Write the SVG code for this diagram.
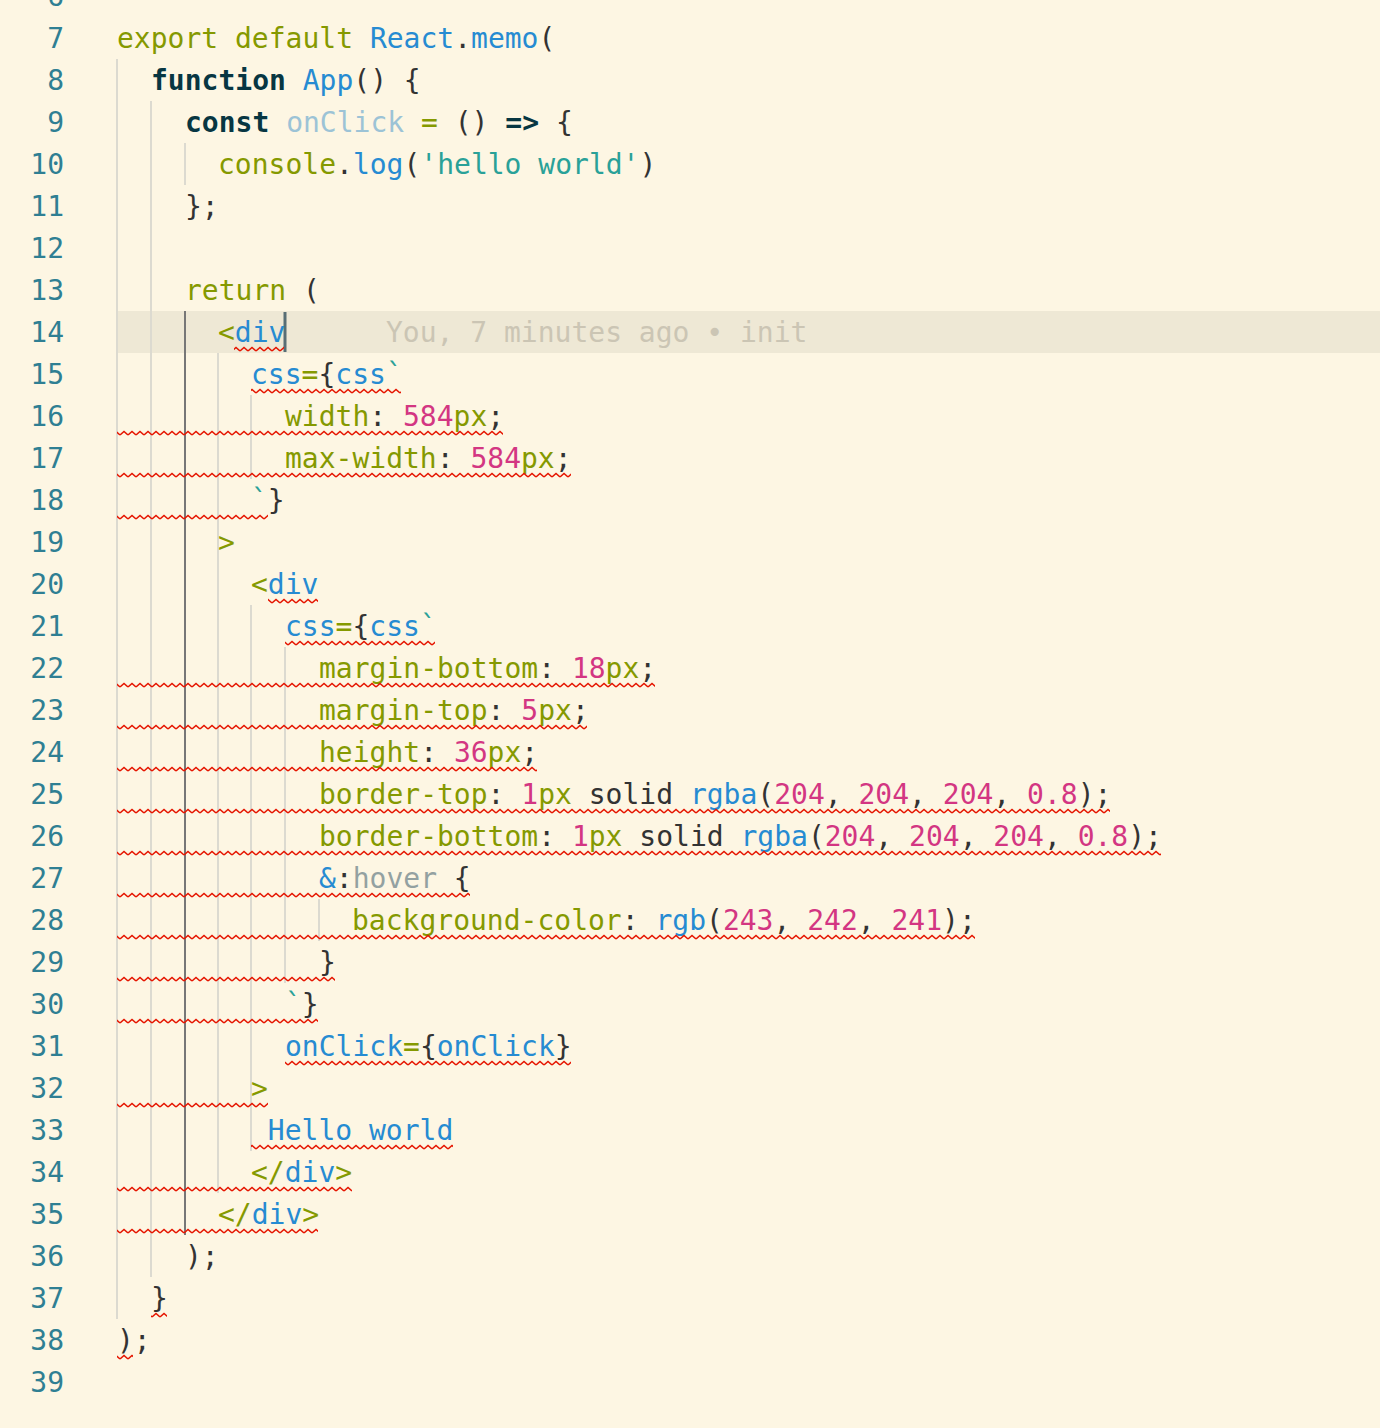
<svg xmlns="http://www.w3.org/2000/svg" width="1380" height="1428" viewBox="0 0 1380 1428">
<defs>
<pattern id="sq" patternUnits="userSpaceOnUse" x="0" y="0" width="8" height="1428">
<path d="M0,5 L4,1.5 L8,5" fill="none" stroke="#e51400" stroke-width="1.6"/>
</pattern>
<style>
text{font-family:"DejaVu Sans Mono","Liberation Mono",monospace;font-size:28px;white-space:pre;fill:#333}
.ln{fill:#2f7f93;text-anchor:end}
.g{fill:#859900}.b{fill:#268bd2}.c{fill:#2aa198}.m{fill:#d33682}.k{fill:#073642;font-weight:bold}.u{fill:#9cc3d6}.h{fill:#93a1a1}
.blame{fill:#cbc5b4}
.gd{stroke:#dcdad0;stroke-width:2}
.ga{stroke:#777;stroke-width:2}
</style>
</defs>
<rect width="1380" height="1428" fill="#fdf6e3"/>
<rect x="117" y="311" width="1263" height="42" fill="#eee8d5"/>
<g id="guides">
<line class="gd" x1="117" y1="59" x2="117" y2="1319"/>
<line class="gd" x1="151" y1="101" x2="151" y2="1277"/>
<line class="gd" x1="185" y1="143" x2="185" y2="185"/>
<line class="ga" x1="185" y1="311" x2="185" y2="1235"/>
<line class="gd" x1="218" y1="353" x2="218" y2="1193"/>
<line class="gd" x1="251" y1="395" x2="251" y2="479"/>
<line class="gd" x1="251" y1="605" x2="251" y2="1151"/>
<line class="gd" x1="285" y1="647" x2="285" y2="983"/>
<line class="gd" x1="319" y1="899" x2="319" y2="941"/>
<line x1="285" y1="312" x2="285" y2="352" stroke="#586e75" stroke-width="3"/>
</g>
<g id="lines">
<text class="ln" x="64" y="6">6</text>
<text class="ln" x="64" y="48">7</text>
<text class="ln" x="64" y="90">8</text>
<text class="ln" x="64" y="132">9</text>
<text class="ln" x="64" y="174">10</text>
<text class="ln" x="64" y="216">11</text>
<text class="ln" x="64" y="258">12</text>
<text class="ln" x="64" y="300">13</text>
<text class="ln" x="64" y="342">14</text>
<text class="ln" x="64" y="384">15</text>
<text class="ln" x="64" y="426">16</text>
<text class="ln" x="64" y="468">17</text>
<text class="ln" x="64" y="510">18</text>
<text class="ln" x="64" y="552">19</text>
<text class="ln" x="64" y="594">20</text>
<text class="ln" x="64" y="636">21</text>
<text class="ln" x="64" y="678">22</text>
<text class="ln" x="64" y="720">23</text>
<text class="ln" x="64" y="762">24</text>
<text class="ln" x="64" y="804">25</text>
<text class="ln" x="64" y="846">26</text>
<text class="ln" x="64" y="888">27</text>
<text class="ln" x="64" y="930">28</text>
<text class="ln" x="64" y="972">29</text>
<text class="ln" x="64" y="1014">30</text>
<text class="ln" x="64" y="1056">31</text>
<text class="ln" x="64" y="1098">32</text>
<text class="ln" x="64" y="1140">33</text>
<text class="ln" x="64" y="1182">34</text>
<text class="ln" x="64" y="1224">35</text>
<text class="ln" x="64" y="1266">36</text>
<text class="ln" x="64" y="1308">37</text>
<text class="ln" x="64" y="1350">38</text>
<text class="ln" x="64" y="1392">39</text>
</g>
<g id="code">
<text x="117" y="48"><tspan class="g">export default </tspan><tspan class="b">React</tspan>.<tspan class="b">memo</tspan>(</text>
<text x="151" y="90"><tspan class="k">function</tspan> <tspan class="b">App</tspan>() {</text>
<text x="185" y="132"><tspan class="k">const</tspan> <tspan class="u">onClick</tspan> <tspan class="g">=</tspan> () <tspan class="k">=&gt;</tspan> {</text>
<text x="218" y="174"><tspan class="g">console</tspan>.<tspan class="b">log</tspan>(<tspan class="c">'hello world'</tspan>)</text>
<text x="185" y="216">};</text>
<text x="185" y="300"><tspan class="g">return</tspan> (</text>
<text x="218" y="342"><tspan class="g">&lt;</tspan><tspan class="b">div</tspan></text>
<text class="blame" x="386" y="342">You, 7 minutes ago • init</text>
<text x="251" y="384"><tspan class="b">css</tspan><tspan class="g">=</tspan>{<tspan class="b">css</tspan><tspan class="c">`</tspan></text>
<text x="285" y="426"><tspan class="g">width</tspan>: <tspan class="m">584</tspan><tspan class="g">px</tspan>;</text>
<text x="285" y="468"><tspan class="g">max-width</tspan>: <tspan class="m">584</tspan><tspan class="g">px</tspan>;</text>
<text x="251" y="510"><tspan class="c">`</tspan>}</text>
<text x="218" y="552" class="g">&gt;</text>
<text x="251" y="594"><tspan class="g">&lt;</tspan><tspan class="b">div</tspan></text>
<text x="285" y="636"><tspan class="b">css</tspan><tspan class="g">=</tspan>{<tspan class="b">css</tspan><tspan class="c">`</tspan></text>
<text x="319" y="678"><tspan class="g">margin-bottom</tspan>: <tspan class="m">18</tspan><tspan class="g">px</tspan>;</text>
<text x="319" y="720"><tspan class="g">margin-top</tspan>: <tspan class="m">5</tspan><tspan class="g">px</tspan>;</text>
<text x="319" y="762"><tspan class="g">height</tspan>: <tspan class="m">36</tspan><tspan class="g">px</tspan>;</text>
<text x="319" y="804"><tspan class="g">border-top</tspan>: <tspan class="m">1</tspan><tspan class="g">px</tspan> solid <tspan class="b">rgba</tspan>(<tspan class="m">204</tspan>, <tspan class="m">204</tspan>, <tspan class="m">204</tspan>, <tspan class="m">0.8</tspan>);</text>
<text x="319" y="846"><tspan class="g">border-bottom</tspan>: <tspan class="m">1</tspan><tspan class="g">px</tspan> solid <tspan class="b">rgba</tspan>(<tspan class="m">204</tspan>, <tspan class="m">204</tspan>, <tspan class="m">204</tspan>, <tspan class="m">0.8</tspan>);</text>
<text x="319" y="888"><tspan class="b">&amp;</tspan>:<tspan class="h">hover</tspan> {</text>
<text x="352" y="930"><tspan class="g">background-color</tspan>: <tspan class="b">rgb</tspan>(<tspan class="m">243</tspan>, <tspan class="m">242</tspan>, <tspan class="m">241</tspan>);</text>
<text x="319" y="972">}</text>
<text x="285" y="1014"><tspan class="c">`</tspan>}</text>
<text x="285" y="1056"><tspan class="b">onClick</tspan><tspan class="g">=</tspan>{<tspan class="b">onClick</tspan>}</text>
<text x="251" y="1098" class="g">&gt;</text>
<text x="251" y="1140" class="b"> Hello world</text>
<text x="251" y="1182"><tspan class="g">&lt;/</tspan><tspan class="b">div</tspan><tspan class="g">&gt;</tspan></text>
<text x="218" y="1224"><tspan class="g">&lt;/</tspan><tspan class="b">div</tspan><tspan class="g">&gt;</tspan></text>
<text x="185" y="1266">);</text>
<text x="151" y="1308">}</text>
<text x="117" y="1350">);</text>
</g>
<g id="squiggles" fill="url(#sq)">
<rect x="234" y="0" width="50" height="6" transform="translate(0,346)"/>
<rect x="251" y="0" width="150" height="6" transform="translate(0,388)"/>
<rect x="117" y="0" width="386" height="6" transform="translate(0,430)"/>
<rect x="117" y="0" width="454" height="6" transform="translate(0,472)"/>
<rect x="117" y="0" width="151" height="6" transform="translate(0,514)"/>
<rect x="268" y="0" width="50" height="6" transform="translate(0,598)"/>
<rect x="285" y="0" width="150" height="6" transform="translate(0,640)"/>
<rect x="117" y="0" width="538" height="6" transform="translate(0,682)"/>
<rect x="117" y="0" width="470" height="6" transform="translate(0,724)"/>
<rect x="117" y="0" width="420" height="6" transform="translate(0,766)"/>
<rect x="117" y="0" width="993" height="6" transform="translate(0,808)"/>
<rect x="117" y="0" width="1044" height="6" transform="translate(0,850)"/>
<rect x="117" y="0" width="353" height="6" transform="translate(0,892)"/>
<rect x="117" y="0" width="858" height="6" transform="translate(0,934)"/>
<rect x="117" y="0" width="218" height="6" transform="translate(0,976)"/>
<rect x="117" y="0" width="201" height="6" transform="translate(0,1018)"/>
<rect x="285" y="0" width="286" height="6" transform="translate(0,1060)"/>
<rect x="117" y="0" width="151" height="6" transform="translate(0,1102)"/>
<rect x="251" y="0" width="202" height="6" transform="translate(0,1144)"/>
<rect x="117" y="0" width="235" height="6" transform="translate(0,1186)"/>
<rect x="117" y="0" width="201" height="6" transform="translate(0,1228)"/>
<rect x="151" y="0" width="16" height="6" transform="translate(0,1312)"/>
<rect x="117" y="0" width="16" height="6" transform="translate(0,1354)"/>
</g>
</svg>
